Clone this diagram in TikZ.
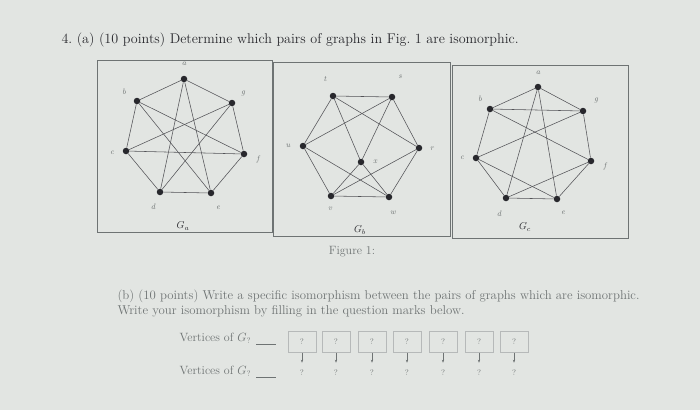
\documentclass[tikz,border=0pt]{standalone}
\usetikzlibrary{arrows.meta}
\definecolor{paper}{RGB}{226,229,226}
\definecolor{ink}{RGB}{40,40,45}
\definecolor{faint}{RGB}{110,115,115}
\begin{document}
\begin{tikzpicture}[x=1pt,y=-1pt,
  vtx/.style={circle,fill=ink,inner sep=0pt,minimum size=6.5pt},
  lab/.style={font=\fontsize{8}{9}\selectfont\itshape,text=faint},
  edge/.style={draw=ink!80,line width=0.55pt},
  frame/.style={draw=faint,line width=0.6pt},
  qbox/.style={draw=faint!50,minimum width=28pt,minimum height=21pt,font=\footnotesize,text=faint}]
\fill[paper] (0,0) rectangle (700,410);
\useasboundingbox (0,0) rectangle (700,410);
\node[anchor=west,text=ink,font=\fontsize{14.1}{16}\selectfont] (title) at (58,40) {4.\ (a) (10 points) Determine which pairs of graphs in Fig.\ 1 are isomorphic.};
% frames
\draw[frame] (97,60) rectangle (272,232);
\draw[frame] (273,62) rectangle (450,236);
\draw[frame] (452,65) rectangle (628,238);
% Ga
\foreach \n/\x/\y in {a/184/79,b/137/101,g/232/103,c/126/151,f/244/154,d/160/192,e/211/193}
  \node[vtx] (A\n) at (\x,\y) {};
\foreach \u/\v in {a/b,a/g,a/d,a/e,b/c,b/f,b/e,g/c,g/d,g/f,c/f,c/d,d/e,e/f}
  \draw[edge] (A\u) -- (A\v);
\foreach \n/\x/\y in {a/184/64,b/124/92,g/243/94,c/112/153,f/258/159,d/153/207,e/218/208}
  \node[lab] (LA\n) at (\x,\y) {\n};
\node[text=ink,font=\normalsize] (Ga) at (183,226) {$G_a$};
% Gb
\foreach \n/\x/\y in {t/333/96,s/392/97,u/303/146,r/419/148,x/361/162,v/331/196,w/389/197}
  \node[vtx] (B\n) at (\x,\y) {};
\foreach \u/\v in {t/s,t/u,t/r,t/x,s/u,s/r,s/x,u/v,u/w,r/v,r/w,x/v,x/w,v/w}
  \draw[edge] (B\u) -- (B\v);
\foreach \n/\x/\y in {t/325/79,s/400/77,u/288/146,r/432/149,x/375/162,v/330/209,w/393/213}
  \node[lab] (LB\n) at (\x,\y) {\n};
\node[text=ink,font=\normalsize] (Gb) at (360,230) {$G_b$};
% Gc
\foreach \n/\x/\y in {a/538/87,b/490/109,g/583/111,c/476/158,f/591/161,d/506/198,e/557/199}
  \node[vtx] (C\n) at (\x,\y) {};
\foreach \u/\v in {a/b,a/g,a/d,a/e,b/g,b/c,b/f,g/c,g/f,c/d,c/e,f/d,f/e,d/e}
  \draw[edge] (C\u) -- (C\v);
\foreach \n/\x/\y in {a/538/73,b/480/99,g/596/101,c/462/158,f/605/166,d/499/214,e/563/213}
  \node[lab] (LC\n) at (\x,\y) {\n};
\node[text=ink,font=\normalsize] (Gc) at (525,227) {$G_c$};
\node[text=faint,font=\fontsize{12}{14}\selectfont] (fig) at (352,252) {Figure 1:};
% part b
\node[anchor=west,text=faint,font=\fontsize{12.8}{14}\selectfont] (pb1) at (114,296) {(b) (10 points) Write a specific isomorphism between the pairs of graphs which are isomorphic.};
\node[anchor=west,text=faint,font=\fontsize{12.8}{14}\selectfont] (pb2) at (114,311) {Write your isomorphism by filling in the question marks below.};
\node[anchor=west,text=faint,font=\fontsize{12}{14}\selectfont] (r1) at (176,338) {Vertices of $G_?$};
\node[anchor=west,text=faint,font=\fontsize{12}{14}\selectfont] (r2) at (176,371) {Vertices of $G_?$};
\draw[faint] (256,344) -- (276,344);
\draw[faint] (256,377) -- (276,377);
\foreach \i/\x in {1/302,2/336,3/372,4/407,5/443,6/479,7/514}{
  \node[qbox] (q\i) at (\x,342) {?};
  \node[font=\footnotesize,text=faint] (p\i) at (\x,373) {?};
  \draw[faint,-{Stealth[length=3pt]}] (q\i.south) -- ++(0,10);
}
\end{tikzpicture}
\end{document}
